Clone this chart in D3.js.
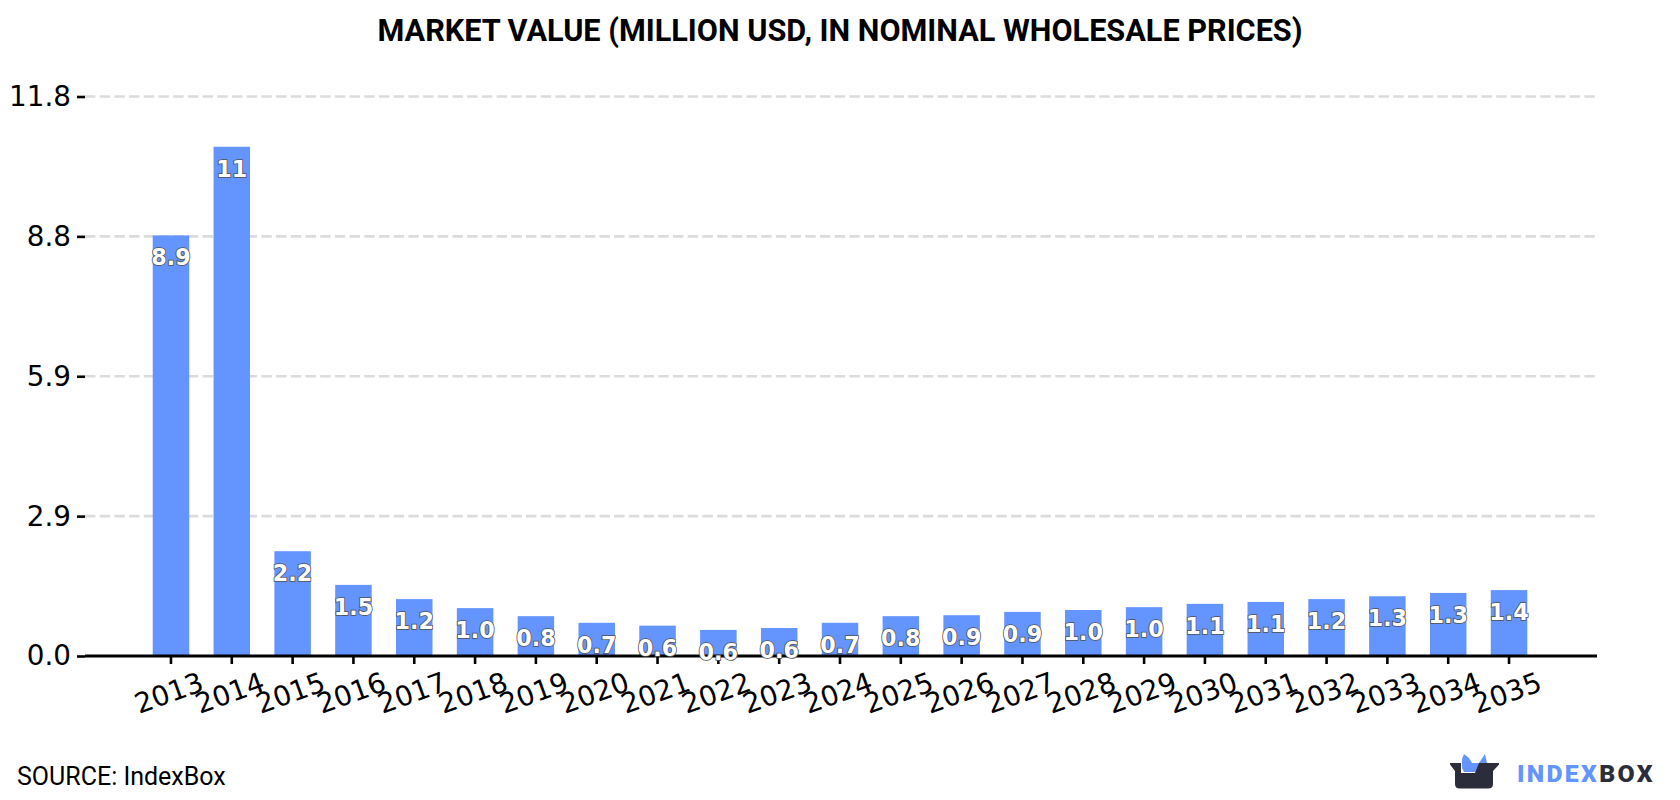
<!DOCTYPE html>
<html>
<head>
<meta charset="utf-8">
<script src="https://cdn.jsdelivr.net/npm/d3@7/dist/d3.min.js"></script>
<style>
  html, body { margin: 0; padding: 0; background: #fff; }
  svg { display: block; }
</style>
</head>
<body>
<svg id="chart" width="1680" height="800"></svg>
<script>
// Market value series, million USD
const years = [2013,2014,2015,2016,2017,2018,2019,2020,2021,2022,2023,2024,2025,2026,2027,2028,2029,2030,2031,2032,2033,2034,2035];
const marketValues = [8.87,10.74,2.21,1.50,1.20,1.01,0.84,0.70,0.64,0.55,0.59,0.70,0.84,0.86,0.93,0.97,1.03,1.10,1.14,1.20,1.26,1.33,1.39];
const yTickValues = [0, 2.95, 5.9, 8.85, 11.8];
const yTickLabels = ["0.0", "2.9", "5.9", "8.8", "11.8"];

const titleText = "MARKET VALUE (MILLION USD, IN NOMINAL WHOLESALE PRICES)";
const sourceText = "SOURCE: IndexBox";

const BLUE = "#6495ff";
const DARK = "#2b2d3a";
const margin = { left: 85, right: 83, top: 96.5, bottom: 144 };
const width = 1680, height = 800;

const svg = d3.select("#chart");

const x = d3.scaleBand()
  .domain(years)
  .range([margin.left - 1, width - margin.right - 1])
  .paddingInner(0.4)
  .paddingOuter(1.13);

const y = d3.scaleLinear()
  .domain([0, 11.8])
  .range([height - margin.bottom, margin.top]);

// Title and source line
svg.append("text")
  .attr("x", 840).attr("y", 41)
  .attr("text-anchor", "middle")
  .attr("font-family", "Roboto").attr("font-weight", 700).attr("font-size", 30.65)
  .attr("fill", "#000")
  .text(titleText);

svg.append("text")
  .attr("x", 17).attr("y", 785)
  .attr("font-family", "Roboto").attr("font-size", 25)
  .attr("fill", "#000")
  .text(sourceText);

// Horizontal grid
svg.append("g").selectAll("line")
  .data(yTickValues.slice(1))
  .join("line")
  .attr("x1", margin.left).attr("x2", width - margin.right)
  .attr("y1", d => y(d)).attr("y2", d => y(d))
  .attr("stroke", "#dcdcdc").attr("stroke-width", 2.6)
  .attr("stroke-dasharray", "10.4 4.3");

// Bars
svg.append("g").selectAll("rect")
  .data(marketValues)
  .join("rect")
  .attr("x", (d, i) => x(years[i]))
  .attr("width", x.bandwidth())
  .attr("y", d => y(d))
  .attr("height", d => y(0) - y(d))
  .attr("fill", BLUE);

// Y axis
const yAxis = d3.axisLeft(y)
  .tickValues(yTickValues)
  .tickFormat((d, i) => yTickLabels[i])
  .tickSize(8).tickPadding(6);

const yG = svg.append("g")
  .attr("transform", `translate(${margin.left},0)`)
  .call(yAxis);
yG.select(".domain").remove();
yG.selectAll("line").attr("stroke", "#000").attr("stroke-width", 2.6);
yG.selectAll("text")
  .attr("font-family", "DejaVu Sans").attr("font-size", 27.8).attr("fill", "#000");

// X axis
const xAxis = d3.axisBottom(x).tickSize(8).tickSizeOuter(0).tickPadding(8);
const xG = svg.append("g")
  .attr("transform", `translate(0,${y(0)})`)
  .call(xAxis);
xG.select(".domain")
  .attr("d", `M${margin.left},0H${width - margin.right}`)
  .attr("stroke", "#000").attr("stroke-width", 2.8);
xG.selectAll("line").attr("stroke", "#000").attr("stroke-width", 2.6);
xG.selectAll("text")
  .attr("font-family", "DejaVu Sans").attr("font-size", 27.8).attr("fill", "#000")
  .attr("text-anchor", "middle")
  .attr("dy", null).attr("y", null)
  .attr("dominant-baseline", "central")
  .attr("transform", "translate(-2,37) rotate(-20)");

// Value labels inside the bars
const valueLabel = v => v >= 10 ? d3.format(".0f")(v) : v.toFixed(1);

svg.append("g").selectAll("text")
  .data(marketValues)
  .join("text")
  .attr("x", (d, i) => x(years[i]) + x.bandwidth() / 2)
  .attr("y", d => y(d) + 22)
  .attr("text-anchor", "middle")
  .attr("dominant-baseline", "central")
  .attr("font-family", "DejaVu Sans").attr("font-weight", 700).attr("font-size", 22.3)
  .attr("fill", "#fff")
  .attr("stroke", "#505050").attr("stroke-width", 1.6)
  .attr("paint-order", "stroke")
  .text(valueLabel);

// Brand mark, bottom right
const logo = svg.append("g");
logo.append("path")
  .attr("d", "M1462,768 L1462,759 L1464,754 L1469,758 L1472,763 L1479,763 L1483,757 L1485,754 L1487,763 L1488,772 L1464,772 Z")
  .attr("fill", BLUE);
logo.append("path")
  .attr("d", "M1450,763 L1461,763 L1461,773 L1475,773 L1479,763 L1499,763 L1499,764.5 L1493,771 L1493,784 Q1493,788.5 1488,788.5 L1460,788.5 Q1455,788.5 1455,784 L1455,771 L1450,764.5 Z")
  .attr("fill", DARK);
const brand = logo.append("text")
  .attr("x", 1517).attr("y", 782)
  .attr("font-family", "Roboto").attr("font-weight", 900).attr("font-size", 24.8)
  .attr("letter-spacing", 2.3);
brand.append("tspan").attr("fill", BLUE).text("INDEX");
brand.append("tspan").attr("fill", DARK).text("BOX");
</script>
</body>
</html>
